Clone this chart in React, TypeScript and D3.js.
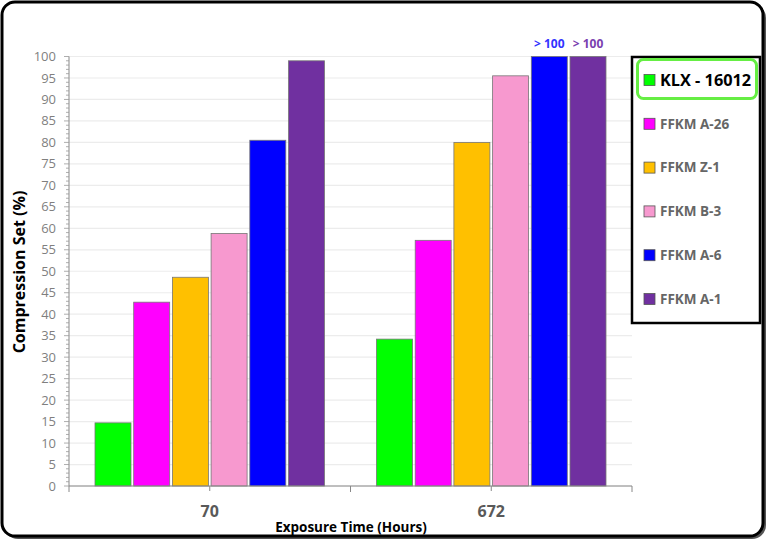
import React from "react";
import * as d3 from "d3";

const categories = ["70", "672"];
const series = ["KLX - 16012", "FFKM A-26", "FFKM Z-1", "FFKM B-3", "FFKM A-6", "FFKM A-1"];
const colors = ["#00ff00", "#ff00ff", "#ffc000", "#f799cf", "#0000ff", "#7030a0"];
const values70 = [14.7, 42.8, 48.6, 58.8, 80.5, 99];
const values672 = [34.2, 57.2, 80, 95.5, 100, 100];
const overLabels672 = ["", "", "", "", "> 100", "> 100"];
const labelColors = ["", "", "", "", "#3333ff", "#7a3fb0"];
const yTicks = d3.range(0, 101, 5);

const W = 768, H = 541;
const M = { left: 69, right: 632, top: 56.5, bottom: 486 };
const font = "'Open Sans', 'Liberation Sans', sans-serif";

export default function App() {
  const x0 = d3.scaleBand().domain(categories).range([M.left, M.right]).paddingInner(0).paddingOuter(0);
  const x1 = d3.scaleBand().domain(series).range([26, x0.bandwidth() - 26]).paddingInner(0.07);
  const y = d3.scaleLinear().domain([0, 100]).range([M.bottom, M.top]);
  const data = [values70, values672];
  const minor = d3.range(0, 101, 1);
  return (
    <svg width={W} height={H} style={{ position: "absolute", left: 0, top: 0, background: "#fff" }}>
      <rect x={4} y={4} width={W - 6} height={H - 6} rx={14} fill="#555" />
      <rect x={2} y={2} width={W - 7} height={H - 7} rx={13} fill="#fff" stroke="#000" strokeWidth={3} />
      {yTicks.map(t => (
        <line key={"g" + t} x1={M.left} x2={M.right} y1={y(t)} y2={y(t)} stroke="#ececec" strokeWidth={1.2} />
      ))}
      {data.map((vals, ci) => (
        <g key={ci} transform={`translate(${x0(categories[ci])},0)`}>
          {vals.map((v, si) => (
            <rect key={si} x={x1(series[si])} y={y(v)} width={x1.bandwidth()} height={y(0) - y(v)}
              fill={colors[si]} stroke="#777" strokeWidth={0.8} />
          ))}
        </g>
      ))}
      {overLabels672.map((l, si) => l ? (
        <text key={"o" + si} x={(x0("672") as number) + (x1(series[si]) as number) + x1.bandwidth() / 2} y={y(100) - 9}
          textAnchor="middle" fontFamily={font} fontWeight={700} fontSize={12} fill={labelColors[si]}>{l}</text>
      ) : null)}
      {/* y axis */}
      <line x1={M.left} x2={M.left} y1={M.top} y2={M.bottom} stroke="#888" strokeWidth={1} />
      {minor.map(t => (
        <line key={"m" + t} x1={M.left - (t % 5 === 0 ? 5 : 3)} x2={M.left} y1={y(t)} y2={y(t)} stroke="#999" strokeWidth={0.8} />
      ))}
      {yTicks.map(t => (
        <text key={"t" + t} x={M.left - 13} y={y(t)} dy="0.35em" textAnchor="end" fontFamily={font} fontSize={13} fill="#7f7f7f">{t}</text>
      ))}
      {/* x axis */}
      <line x1={M.left} x2={M.right} y1={M.bottom} y2={M.bottom} stroke="#888" strokeWidth={1} />
      {[...categories.map(c => x0(c) as number), M.right].map((xx, i) => (
        <line key={"xb" + i} x1={xx} x2={xx} y1={M.bottom} y2={M.bottom + 6} stroke="#888" />
      ))}
      {categories.map(c => (
        <line key={"xc" + c} x1={(x0(c) as number) + x0.bandwidth() / 2} x2={(x0(c) as number) + x0.bandwidth() / 2} y1={M.bottom} y2={M.bottom + 5} stroke="#888" />
      ))}
      {categories.map(c => (
        <text key={"xl" + c} x={(x0(c) as number) + x0.bandwidth() / 2} y={517} textAnchor="middle" fontFamily={font} fontWeight={700} fontSize={16} fill="#595959">{c}</text>
      ))}
      <text x={351} y={532} textAnchor="middle" fontFamily={font} fontWeight={700} fontSize={13.5} fill="#000">Exposure Time (Hours)</text>
      <text transform={`translate(25,272) rotate(-90)`} textAnchor="middle" fontFamily={font} fontWeight={700} fontSize={16} fill="#000">Compression Set (%)</text>
      {/* legend */}
      <rect x={632} y={57} width={128} height={266} fill="#fff" stroke="#000" strokeWidth={2.5} />
      <rect x={637.5} y={59.5} width={119} height={39} rx={6} fill="none" stroke="#66ee44" strokeWidth={3} />
      {series.map((s, i) => {
        const cy = 80 + i * 43.8;
        return (
          <g key={"l" + i}>
            <rect x={644} y={cy - 5.5} width={11} height={11} fill={colors[i]} stroke="#555" strokeWidth={0.8} />
            <text x={660} y={cy} dy="0.36em" fontFamily={font} fontWeight={700}
              fontSize={i === 0 ? 16.3 : 13.5} fill={i === 0 ? "#000" : "#666"}>{s}</text>
          </g>
        );
      })}
    </svg>
  );
}
